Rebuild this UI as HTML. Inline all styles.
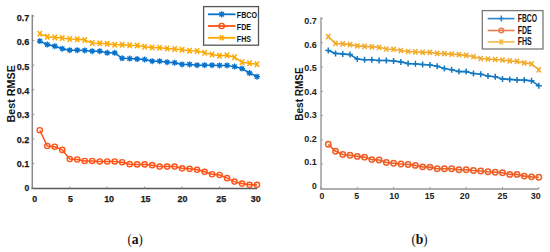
<!DOCTYPE html>
<html><head><meta charset="utf-8"><style>
html,body{margin:0;padding:0;background:#fff;}
body{width:550px;height:252px;overflow:hidden;}
svg{display:block;}
.tl{font-family:"Liberation Sans",sans-serif;font-weight:bold;font-size:9.5px;fill:#1a1a1a;}
.ta{stroke:#1a1a1a;stroke-width:0.25px;}
.tb{fill:#222;}
.yl{font-family:"Liberation Sans",sans-serif;font-weight:bold;font-size:10.8px;fill:#111;}
.lg{font-family:"Liberation Sans",sans-serif;font-weight:bold;font-size:9.4px;fill:#111;}
.cap{font-family:"Liberation Serif",serif;font-weight:bold;font-size:14.2px;fill:#111;}
.pn{font-weight:normal;}
</style></head><body>
<svg width="550" height="252" viewBox="0 0 550 252">
<path d="M32.3 14.7V188.5" stroke="#8a8a8a" stroke-width="1.5" fill="none"/>
<path d="M31.55 188.5H257" stroke="#5a5a5a" stroke-width="1.5" fill="none"/>
<path d="M32.3 188h2M32.3 163.43h2M32.3 138.86h2M32.3 114.29h2M32.3 89.72h2M32.3 65.15h2M32.3 40.58h2M32.3 16.01h2M32.3 188.5v-2M69.75 188.5v-2M107.2 188.5v-2M144.65 188.5v-2M182.1 188.5v-2M219.55 188.5v-2M257 188.5v-2" stroke="#8a8a8a" stroke-width="1" fill="none"/>
<text x="24.5" y="191.4" textLength="4.8" lengthAdjust="spacingAndGlyphs" class="tl ta">0</text>
<text x="16.7" y="167.04" textLength="12.6" lengthAdjust="spacingAndGlyphs" class="tl ta">0.1</text>
<text x="16.7" y="142.68" textLength="12.6" lengthAdjust="spacingAndGlyphs" class="tl ta">0.2</text>
<text x="16.7" y="118.32" textLength="12.6" lengthAdjust="spacingAndGlyphs" class="tl ta">0.3</text>
<text x="16.7" y="93.96" textLength="12.6" lengthAdjust="spacingAndGlyphs" class="tl ta">0.4</text>
<text x="16.7" y="69.6" textLength="12.6" lengthAdjust="spacingAndGlyphs" class="tl ta">0.5</text>
<text x="16.7" y="45.24" textLength="12.6" lengthAdjust="spacingAndGlyphs" class="tl ta">0.6</text>
<text x="16.7" y="20.88" textLength="12.6" lengthAdjust="spacingAndGlyphs" class="tl ta">0.7</text>
<text x="32.35" y="201.6" textLength="4.9" lengthAdjust="spacingAndGlyphs" class="tl ta">0</text>
<text x="68.05" y="201.6" textLength="4.9" lengthAdjust="spacingAndGlyphs" class="tl ta">5</text>
<text x="104.15" y="201.6" textLength="9.9" lengthAdjust="spacingAndGlyphs" class="tl ta">10</text>
<text x="140.65" y="201.6" textLength="9.9" lengthAdjust="spacingAndGlyphs" class="tl ta">15</text>
<text x="177.45" y="201.6" textLength="9.9" lengthAdjust="spacingAndGlyphs" class="tl ta">20</text>
<text x="216.35" y="201.6" textLength="9.9" lengthAdjust="spacingAndGlyphs" class="tl ta">25</text>
<text x="250.85" y="201.6" textLength="9.9" lengthAdjust="spacingAndGlyphs" class="tl ta">30</text>
<text transform="translate(14.6 93.85) rotate(-90)" x="-28.65" textLength="57.3" lengthAdjust="spacingAndGlyphs" class="yl">Best RMSE</text>
<polyline points="39.79,41.07 47.28,44.51 54.77,46.23 62.26,48.69 69.75,50.16 77.24,50.16 84.73,50.41 92.22,51.15 99.71,51.15 107.2,52.87 114.69,52.87 122.18,58.27 129.67,58.52 137.16,59.01 144.65,59.5 152.14,61.22 159.63,61.22 167.12,62.2 174.61,62.69 182.1,64.41 189.59,64.41 197.08,65.15 204.57,65.15 212.06,65.15 219.55,65.4 227.04,65.4 234.53,66.62 242.02,68.59 249.51,73.01 257,76.7" stroke="#0672cc" stroke-width="1.5" fill="none" stroke-linejoin="round"/><path d="M36.79 41.07H42.79M39.79 38.07V44.07M37.63 38.91L41.95 43.23M37.63 43.23L41.95 38.91" stroke="#0672cc" stroke-width="1.3" fill="none"/><path d="M44.28 44.51H50.28M47.28 41.51V47.51M45.12 42.35L49.44 46.67M45.12 46.67L49.44 42.35" stroke="#0672cc" stroke-width="1.3" fill="none"/><path d="M51.77 46.23H57.77M54.77 43.23V49.23M52.61 44.07L56.93 48.39M52.61 48.39L56.93 44.07" stroke="#0672cc" stroke-width="1.3" fill="none"/><path d="M59.26 48.69H65.26M62.26 45.69V51.69M60.1 46.53L64.42 50.85M60.1 50.85L64.42 46.53" stroke="#0672cc" stroke-width="1.3" fill="none"/><path d="M66.75 50.16H72.75M69.75 47.16V53.16M67.59 48L71.91 52.32M67.59 52.32L71.91 48" stroke="#0672cc" stroke-width="1.3" fill="none"/><path d="M74.24 50.16H80.24M77.24 47.16V53.16M75.08 48L79.4 52.32M75.08 52.32L79.4 48" stroke="#0672cc" stroke-width="1.3" fill="none"/><path d="M81.73 50.41H87.73M84.73 47.41V53.41M82.57 48.25L86.89 52.57M82.57 52.57L86.89 48.25" stroke="#0672cc" stroke-width="1.3" fill="none"/><path d="M89.22 51.15H95.22M92.22 48.15V54.15M90.06 48.99L94.38 53.31M90.06 53.31L94.38 48.99" stroke="#0672cc" stroke-width="1.3" fill="none"/><path d="M96.71 51.15H102.71M99.71 48.15V54.15M97.55 48.99L101.87 53.31M97.55 53.31L101.87 48.99" stroke="#0672cc" stroke-width="1.3" fill="none"/><path d="M104.2 52.87H110.2M107.2 49.87V55.87M105.04 50.71L109.36 55.03M105.04 55.03L109.36 50.71" stroke="#0672cc" stroke-width="1.3" fill="none"/><path d="M111.69 52.87H117.69M114.69 49.87V55.87M112.53 50.71L116.85 55.03M112.53 55.03L116.85 50.71" stroke="#0672cc" stroke-width="1.3" fill="none"/><path d="M119.18 58.27H125.18M122.18 55.27V61.27M120.02 56.11L124.34 60.43M120.02 60.43L124.34 56.11" stroke="#0672cc" stroke-width="1.3" fill="none"/><path d="M126.67 58.52H132.67M129.67 55.52V61.52M127.51 56.36L131.83 60.68M127.51 60.68L131.83 56.36" stroke="#0672cc" stroke-width="1.3" fill="none"/><path d="M134.16 59.01H140.16M137.16 56.01V62.01M135 56.85L139.32 61.17M135 61.17L139.32 56.85" stroke="#0672cc" stroke-width="1.3" fill="none"/><path d="M141.65 59.5H147.65M144.65 56.5V62.5M142.49 57.34L146.81 61.66M142.49 61.66L146.81 57.34" stroke="#0672cc" stroke-width="1.3" fill="none"/><path d="M149.14 61.22H155.14M152.14 58.22V64.22M149.98 59.06L154.3 63.38M149.98 63.38L154.3 59.06" stroke="#0672cc" stroke-width="1.3" fill="none"/><path d="M156.63 61.22H162.63M159.63 58.22V64.22M157.47 59.06L161.79 63.38M157.47 63.38L161.79 59.06" stroke="#0672cc" stroke-width="1.3" fill="none"/><path d="M164.12 62.2H170.12M167.12 59.2V65.2M164.96 60.04L169.28 64.36M164.96 64.36L169.28 60.04" stroke="#0672cc" stroke-width="1.3" fill="none"/><path d="M171.61 62.69H177.61M174.61 59.69V65.69M172.45 60.53L176.77 64.85M172.45 64.85L176.77 60.53" stroke="#0672cc" stroke-width="1.3" fill="none"/><path d="M179.1 64.41H185.1M182.1 61.41V67.41M179.94 62.25L184.26 66.57M179.94 66.57L184.26 62.25" stroke="#0672cc" stroke-width="1.3" fill="none"/><path d="M186.59 64.41H192.59M189.59 61.41V67.41M187.43 62.25L191.75 66.57M187.43 66.57L191.75 62.25" stroke="#0672cc" stroke-width="1.3" fill="none"/><path d="M194.08 65.15H200.08M197.08 62.15V68.15M194.92 62.99L199.24 67.31M194.92 67.31L199.24 62.99" stroke="#0672cc" stroke-width="1.3" fill="none"/><path d="M201.57 65.15H207.57M204.57 62.15V68.15M202.41 62.99L206.73 67.31M202.41 67.31L206.73 62.99" stroke="#0672cc" stroke-width="1.3" fill="none"/><path d="M209.06 65.15H215.06M212.06 62.15V68.15M209.9 62.99L214.22 67.31M209.9 67.31L214.22 62.99" stroke="#0672cc" stroke-width="1.3" fill="none"/><path d="M216.55 65.4H222.55M219.55 62.4V68.4M217.39 63.24L221.71 67.56M217.39 67.56L221.71 63.24" stroke="#0672cc" stroke-width="1.3" fill="none"/><path d="M224.04 65.4H230.04M227.04 62.4V68.4M224.88 63.24L229.2 67.56M224.88 67.56L229.2 63.24" stroke="#0672cc" stroke-width="1.3" fill="none"/><path d="M231.53 66.62H237.53M234.53 63.62V69.62M232.37 64.46L236.69 68.78M232.37 68.78L236.69 64.46" stroke="#0672cc" stroke-width="1.3" fill="none"/><path d="M239.02 68.59H245.02M242.02 65.59V71.59M239.86 66.43L244.18 70.75M239.86 70.75L244.18 66.43" stroke="#0672cc" stroke-width="1.3" fill="none"/><path d="M246.51 73.01H252.51M249.51 70.01V76.01M247.35 70.85L251.67 75.17M247.35 75.17L251.67 70.85" stroke="#0672cc" stroke-width="1.3" fill="none"/><path d="M254 76.7H260M257 73.7V79.7M254.84 74.54L259.16 78.86M254.84 78.86L259.16 74.54" stroke="#0672cc" stroke-width="1.3" fill="none"/>
<polyline points="39.79,130.26 47.28,145.99 54.77,146.72 62.26,149.92 69.75,159.01 77.24,159.5 84.73,160.97 92.22,160.97 99.71,161.46 107.2,161.46 114.69,161.46 122.18,162.2 129.67,164.17 137.16,164.41 144.65,164.41 152.14,165.15 159.63,166.62 167.12,166.62 174.61,166.62 182.1,168.34 189.59,168.84 197.08,169.82 204.57,171.78 212.06,174.24 219.55,174.98 227.04,178.17 234.53,181.61 242.02,183.58 249.51,184.81 257,184.81" stroke="#ff5215" stroke-width="1.5" fill="none" stroke-linejoin="round"/><circle cx="39.79" cy="130.26" r="2.6" stroke="#ff5215" stroke-width="1.4" fill="none"/><circle cx="47.28" cy="145.99" r="2.6" stroke="#ff5215" stroke-width="1.4" fill="none"/><circle cx="54.77" cy="146.72" r="2.6" stroke="#ff5215" stroke-width="1.4" fill="none"/><circle cx="62.26" cy="149.92" r="2.6" stroke="#ff5215" stroke-width="1.4" fill="none"/><circle cx="69.75" cy="159.01" r="2.6" stroke="#ff5215" stroke-width="1.4" fill="none"/><circle cx="77.24" cy="159.5" r="2.6" stroke="#ff5215" stroke-width="1.4" fill="none"/><circle cx="84.73" cy="160.97" r="2.6" stroke="#ff5215" stroke-width="1.4" fill="none"/><circle cx="92.22" cy="160.97" r="2.6" stroke="#ff5215" stroke-width="1.4" fill="none"/><circle cx="99.71" cy="161.46" r="2.6" stroke="#ff5215" stroke-width="1.4" fill="none"/><circle cx="107.2" cy="161.46" r="2.6" stroke="#ff5215" stroke-width="1.4" fill="none"/><circle cx="114.69" cy="161.46" r="2.6" stroke="#ff5215" stroke-width="1.4" fill="none"/><circle cx="122.18" cy="162.2" r="2.6" stroke="#ff5215" stroke-width="1.4" fill="none"/><circle cx="129.67" cy="164.17" r="2.6" stroke="#ff5215" stroke-width="1.4" fill="none"/><circle cx="137.16" cy="164.41" r="2.6" stroke="#ff5215" stroke-width="1.4" fill="none"/><circle cx="144.65" cy="164.41" r="2.6" stroke="#ff5215" stroke-width="1.4" fill="none"/><circle cx="152.14" cy="165.15" r="2.6" stroke="#ff5215" stroke-width="1.4" fill="none"/><circle cx="159.63" cy="166.62" r="2.6" stroke="#ff5215" stroke-width="1.4" fill="none"/><circle cx="167.12" cy="166.62" r="2.6" stroke="#ff5215" stroke-width="1.4" fill="none"/><circle cx="174.61" cy="166.62" r="2.6" stroke="#ff5215" stroke-width="1.4" fill="none"/><circle cx="182.1" cy="168.34" r="2.6" stroke="#ff5215" stroke-width="1.4" fill="none"/><circle cx="189.59" cy="168.84" r="2.6" stroke="#ff5215" stroke-width="1.4" fill="none"/><circle cx="197.08" cy="169.82" r="2.6" stroke="#ff5215" stroke-width="1.4" fill="none"/><circle cx="204.57" cy="171.78" r="2.6" stroke="#ff5215" stroke-width="1.4" fill="none"/><circle cx="212.06" cy="174.24" r="2.6" stroke="#ff5215" stroke-width="1.4" fill="none"/><circle cx="219.55" cy="174.98" r="2.6" stroke="#ff5215" stroke-width="1.4" fill="none"/><circle cx="227.04" cy="178.17" r="2.6" stroke="#ff5215" stroke-width="1.4" fill="none"/><circle cx="234.53" cy="181.61" r="2.6" stroke="#ff5215" stroke-width="1.4" fill="none"/><circle cx="242.02" cy="183.58" r="2.6" stroke="#ff5215" stroke-width="1.4" fill="none"/><circle cx="249.51" cy="184.81" r="2.6" stroke="#ff5215" stroke-width="1.4" fill="none"/><circle cx="257" cy="184.81" r="2.6" stroke="#ff5215" stroke-width="1.4" fill="none"/>
<polyline points="39.79,33.7 47.28,36.65 54.77,37.39 62.26,38.12 69.75,39.11 77.24,39.35 84.73,40.09 92.22,43.04 99.71,43.28 107.2,43.77 114.69,44.76 122.18,44.76 129.67,45.25 137.16,45.49 144.65,46.72 152.14,47.46 159.63,47.71 167.12,48.44 174.61,48.93 182.1,49.67 189.59,50.65 197.08,50.9 204.57,52.87 212.06,54.58 219.55,55.81 227.04,55.32 234.53,57.29 242.02,62.2 249.51,63.18 257,64.17" stroke="#fca800" stroke-width="1.5" fill="none" stroke-linejoin="round"/><path d="M37.69 30.9L41.89 36.5M37.69 36.5L41.89 30.9" stroke="#fca800" stroke-width="1.5" fill="none"/><path d="M45.18 33.85L49.38 39.45M45.18 39.45L49.38 33.85" stroke="#fca800" stroke-width="1.5" fill="none"/><path d="M52.67 34.59L56.87 40.19M52.67 40.19L56.87 34.59" stroke="#fca800" stroke-width="1.5" fill="none"/><path d="M60.16 35.32L64.36 40.92M60.16 40.92L64.36 35.32" stroke="#fca800" stroke-width="1.5" fill="none"/><path d="M67.65 36.31L71.85 41.91M67.65 41.91L71.85 36.31" stroke="#fca800" stroke-width="1.5" fill="none"/><path d="M75.14 36.55L79.34 42.15M75.14 42.15L79.34 36.55" stroke="#fca800" stroke-width="1.5" fill="none"/><path d="M82.63 37.29L86.83 42.89M82.63 42.89L86.83 37.29" stroke="#fca800" stroke-width="1.5" fill="none"/><path d="M90.12 40.24L94.32 45.84M90.12 45.84L94.32 40.24" stroke="#fca800" stroke-width="1.5" fill="none"/><path d="M97.61 40.48L101.81 46.08M97.61 46.08L101.81 40.48" stroke="#fca800" stroke-width="1.5" fill="none"/><path d="M105.1 40.97L109.3 46.57M105.1 46.57L109.3 40.97" stroke="#fca800" stroke-width="1.5" fill="none"/><path d="M112.59 41.96L116.79 47.56M112.59 47.56L116.79 41.96" stroke="#fca800" stroke-width="1.5" fill="none"/><path d="M120.08 41.96L124.28 47.56M120.08 47.56L124.28 41.96" stroke="#fca800" stroke-width="1.5" fill="none"/><path d="M127.57 42.45L131.77 48.05M127.57 48.05L131.77 42.45" stroke="#fca800" stroke-width="1.5" fill="none"/><path d="M135.06 42.69L139.26 48.29M135.06 48.29L139.26 42.69" stroke="#fca800" stroke-width="1.5" fill="none"/><path d="M142.55 43.92L146.75 49.52M142.55 49.52L146.75 43.92" stroke="#fca800" stroke-width="1.5" fill="none"/><path d="M150.04 44.66L154.24 50.26M150.04 50.26L154.24 44.66" stroke="#fca800" stroke-width="1.5" fill="none"/><path d="M157.53 44.91L161.73 50.51M157.53 50.51L161.73 44.91" stroke="#fca800" stroke-width="1.5" fill="none"/><path d="M165.02 45.64L169.22 51.24M165.02 51.24L169.22 45.64" stroke="#fca800" stroke-width="1.5" fill="none"/><path d="M172.51 46.13L176.71 51.73M172.51 51.73L176.71 46.13" stroke="#fca800" stroke-width="1.5" fill="none"/><path d="M180 46.87L184.2 52.47M180 52.47L184.2 46.87" stroke="#fca800" stroke-width="1.5" fill="none"/><path d="M187.49 47.85L191.69 53.45M187.49 53.45L191.69 47.85" stroke="#fca800" stroke-width="1.5" fill="none"/><path d="M194.98 48.1L199.18 53.7M194.98 53.7L199.18 48.1" stroke="#fca800" stroke-width="1.5" fill="none"/><path d="M202.47 50.07L206.67 55.67M202.47 55.67L206.67 50.07" stroke="#fca800" stroke-width="1.5" fill="none"/><path d="M209.96 51.78L214.16 57.38M209.96 57.38L214.16 51.78" stroke="#fca800" stroke-width="1.5" fill="none"/><path d="M217.45 53.01L221.65 58.61M217.45 58.61L221.65 53.01" stroke="#fca800" stroke-width="1.5" fill="none"/><path d="M224.94 52.52L229.14 58.12M224.94 58.12L229.14 52.52" stroke="#fca800" stroke-width="1.5" fill="none"/><path d="M232.43 54.49L236.63 60.09M232.43 60.09L236.63 54.49" stroke="#fca800" stroke-width="1.5" fill="none"/><path d="M239.92 59.4L244.12 65M239.92 65L244.12 59.4" stroke="#fca800" stroke-width="1.5" fill="none"/><path d="M247.41 60.38L251.61 65.98M247.41 65.98L251.61 60.38" stroke="#fca800" stroke-width="1.5" fill="none"/><path d="M254.9 61.37L259.1 66.97M254.9 66.97L259.1 61.37" stroke="#fca800" stroke-width="1.5" fill="none"/>
<rect x="203.6" y="6.6" width="54.9" height="38.6" fill="#fff" stroke="#555" stroke-width="1.3"/>
<path d="M208 14.3H235.5" stroke="#0672cc" stroke-width="1.8"/>
<path d="M218.6 14.3H224.8M221.7 11.2V17.4M219.47 12.07L223.93 16.53M219.47 16.53L223.93 12.07" stroke="#0672cc" stroke-width="1.3" fill="none"/>
<text x="236.8" y="18" textLength="20.2" lengthAdjust="spacingAndGlyphs" class="lg" style="font-size:9.4px">FBCO</text>
<path d="M208 26H235.5" stroke="#ff5215" stroke-width="1.8"/>
<circle cx="221.7" cy="26" r="2.6" stroke="#ff5215" stroke-width="1.4" fill="none"/>
<text x="236.8" y="29.8" textLength="14.2" lengthAdjust="spacingAndGlyphs" class="lg" style="font-size:9.4px">FDE</text>
<path d="M208 37.8H235.5" stroke="#fca800" stroke-width="1.8"/>
<path d="M219.9 35.3L223.5 40.3M219.9 40.3L223.5 35.3" stroke="#fca800" stroke-width="1.5" fill="none"/>
<text x="236.8" y="41.5" textLength="14.2" lengthAdjust="spacingAndGlyphs" class="lg" style="font-size:9.4px">FHS</text>
<path d="M321 17.2V188.9" stroke="#9c9c9c" stroke-width="1.5" fill="none"/>
<path d="M320.25 188.9H538.8" stroke="#969696" stroke-width="1.5" fill="none"/>
<path d="M321 188.5h2M321 164.2h2M321 139.9h2M321 115.6h2M321 91.3h2M321 67h2M321 42.7h2M321 18.4h2M321 188.9v-2M357.3 188.9v-2M393.6 188.9v-2M429.9 188.9v-2M466.2 188.9v-2M502.5 188.9v-2M538.8 188.9v-2" stroke="#9c9c9c" stroke-width="1" fill="none"/>
<text x="312" y="188.5" textLength="4.8" lengthAdjust="spacingAndGlyphs" class="tl tb">0</text>
<text x="304.2" y="165.03" textLength="12.6" lengthAdjust="spacingAndGlyphs" class="tl tb">0.1</text>
<text x="304.2" y="141.56" textLength="12.6" lengthAdjust="spacingAndGlyphs" class="tl tb">0.2</text>
<text x="304.2" y="118.09" textLength="12.6" lengthAdjust="spacingAndGlyphs" class="tl tb">0.3</text>
<text x="304.2" y="94.62" textLength="12.6" lengthAdjust="spacingAndGlyphs" class="tl tb">0.4</text>
<text x="304.2" y="71.15" textLength="12.6" lengthAdjust="spacingAndGlyphs" class="tl tb">0.5</text>
<text x="304.2" y="47.68" textLength="12.6" lengthAdjust="spacingAndGlyphs" class="tl tb">0.6</text>
<text x="304.2" y="24.21" textLength="12.6" lengthAdjust="spacingAndGlyphs" class="tl tb">0.7</text>
<text x="319.45" y="198.6" textLength="4.9" lengthAdjust="spacingAndGlyphs" class="tl tb">0</text>
<text x="354.25" y="198.6" textLength="4.9" lengthAdjust="spacingAndGlyphs" class="tl tb">5</text>
<text x="389.35" y="198.6" textLength="9.9" lengthAdjust="spacingAndGlyphs" class="tl tb">10</text>
<text x="424.65" y="198.6" textLength="9.9" lengthAdjust="spacingAndGlyphs" class="tl tb">15</text>
<text x="459.75" y="198.6" textLength="9.9" lengthAdjust="spacingAndGlyphs" class="tl tb">20</text>
<text x="497.55" y="198.6" textLength="9.9" lengthAdjust="spacingAndGlyphs" class="tl tb">25</text>
<text x="530.85" y="198.6" textLength="9.9" lengthAdjust="spacingAndGlyphs" class="tl tb">30</text>
<text transform="translate(302.9 94.05) rotate(-90)" x="-26.65" textLength="53.3" lengthAdjust="spacingAndGlyphs" class="yl">Best RMSE</text>
<polyline points="328.26,50.48 335.52,53.39 342.78,53.88 350.04,54.61 357.3,58.98 364.56,59.71 371.82,59.71 379.08,60.44 386.34,60.44 393.6,60.92 400.86,61.9 408.12,63.6 415.38,63.84 422.64,64.57 429.9,65.06 437.16,66.27 444.42,68.46 451.68,69.67 458.94,71.62 466.2,71.62 473.46,73.56 480.72,74.29 487.98,75.99 495.24,76.72 502.5,78.91 509.76,79.39 517.02,79.88 524.28,80.12 531.54,80.85 538.8,85.71" stroke="#1578c0" stroke-width="1.6" fill="none" stroke-linejoin="round"/><path d="M325.26 50.48H331.26M328.26 47.48V53.48" stroke="#1578c0" stroke-width="1.5" fill="none"/><path d="M332.52 53.39H338.52M335.52 50.39V56.39" stroke="#1578c0" stroke-width="1.5" fill="none"/><path d="M339.78 53.88H345.78M342.78 50.88V56.88" stroke="#1578c0" stroke-width="1.5" fill="none"/><path d="M347.04 54.61H353.04M350.04 51.61V57.61" stroke="#1578c0" stroke-width="1.5" fill="none"/><path d="M354.3 58.98H360.3M357.3 55.98V61.98" stroke="#1578c0" stroke-width="1.5" fill="none"/><path d="M361.56 59.71H367.56M364.56 56.71V62.71" stroke="#1578c0" stroke-width="1.5" fill="none"/><path d="M368.82 59.71H374.82M371.82 56.71V62.71" stroke="#1578c0" stroke-width="1.5" fill="none"/><path d="M376.08 60.44H382.08M379.08 57.44V63.44" stroke="#1578c0" stroke-width="1.5" fill="none"/><path d="M383.34 60.44H389.34M386.34 57.44V63.44" stroke="#1578c0" stroke-width="1.5" fill="none"/><path d="M390.6 60.92H396.6M393.6 57.92V63.92" stroke="#1578c0" stroke-width="1.5" fill="none"/><path d="M397.86 61.9H403.86M400.86 58.9V64.9" stroke="#1578c0" stroke-width="1.5" fill="none"/><path d="M405.12 63.6H411.12M408.12 60.6V66.6" stroke="#1578c0" stroke-width="1.5" fill="none"/><path d="M412.38 63.84H418.38M415.38 60.84V66.84" stroke="#1578c0" stroke-width="1.5" fill="none"/><path d="M419.64 64.57H425.64M422.64 61.57V67.57" stroke="#1578c0" stroke-width="1.5" fill="none"/><path d="M426.9 65.06H432.9M429.9 62.06V68.06" stroke="#1578c0" stroke-width="1.5" fill="none"/><path d="M434.16 66.27H440.16M437.16 63.27V69.27" stroke="#1578c0" stroke-width="1.5" fill="none"/><path d="M441.42 68.46H447.42M444.42 65.46V71.46" stroke="#1578c0" stroke-width="1.5" fill="none"/><path d="M448.68 69.67H454.68M451.68 66.67V72.67" stroke="#1578c0" stroke-width="1.5" fill="none"/><path d="M455.94 71.62H461.94M458.94 68.62V74.62" stroke="#1578c0" stroke-width="1.5" fill="none"/><path d="M463.2 71.62H469.2M466.2 68.62V74.62" stroke="#1578c0" stroke-width="1.5" fill="none"/><path d="M470.46 73.56H476.46M473.46 70.56V76.56" stroke="#1578c0" stroke-width="1.5" fill="none"/><path d="M477.72 74.29H483.72M480.72 71.29V77.29" stroke="#1578c0" stroke-width="1.5" fill="none"/><path d="M484.98 75.99H490.98M487.98 72.99V78.99" stroke="#1578c0" stroke-width="1.5" fill="none"/><path d="M492.24 76.72H498.24M495.24 73.72V79.72" stroke="#1578c0" stroke-width="1.5" fill="none"/><path d="M499.5 78.91H505.5M502.5 75.91V81.91" stroke="#1578c0" stroke-width="1.5" fill="none"/><path d="M506.76 79.39H512.76M509.76 76.39V82.39" stroke="#1578c0" stroke-width="1.5" fill="none"/><path d="M514.02 79.88H520.02M517.02 76.88V82.88" stroke="#1578c0" stroke-width="1.5" fill="none"/><path d="M521.28 80.12H527.28M524.28 77.12V83.12" stroke="#1578c0" stroke-width="1.5" fill="none"/><path d="M528.54 80.85H534.54M531.54 77.85V83.85" stroke="#1578c0" stroke-width="1.5" fill="none"/><path d="M535.8 85.71H541.8M538.8 82.71V88.71" stroke="#1578c0" stroke-width="1.5" fill="none"/>
<polyline points="328.26,144.27 335.52,151.32 342.78,154.48 350.04,155.21 357.3,156.42 364.56,157.15 371.82,159.58 379.08,160.07 386.34,162.5 393.6,163.23 400.86,163.96 408.12,164.44 415.38,165.41 422.64,166.87 429.9,167.12 437.16,168.82 444.42,168.82 451.68,168.82 458.94,169.79 466.2,169.79 473.46,170.52 480.72,171 487.98,171.73 495.24,172.22 502.5,172.71 509.76,174.41 517.02,174.41 524.28,176.11 531.54,176.84 538.8,177.32" stroke="#ee5e24" stroke-width="1.6" fill="none" stroke-linejoin="round"/><circle cx="328.26" cy="144.27" r="2.7" stroke="#ee5e24" stroke-width="1.5" fill="none"/><circle cx="335.52" cy="151.32" r="2.7" stroke="#ee5e24" stroke-width="1.5" fill="none"/><circle cx="342.78" cy="154.48" r="2.7" stroke="#ee5e24" stroke-width="1.5" fill="none"/><circle cx="350.04" cy="155.21" r="2.7" stroke="#ee5e24" stroke-width="1.5" fill="none"/><circle cx="357.3" cy="156.42" r="2.7" stroke="#ee5e24" stroke-width="1.5" fill="none"/><circle cx="364.56" cy="157.15" r="2.7" stroke="#ee5e24" stroke-width="1.5" fill="none"/><circle cx="371.82" cy="159.58" r="2.7" stroke="#ee5e24" stroke-width="1.5" fill="none"/><circle cx="379.08" cy="160.07" r="2.7" stroke="#ee5e24" stroke-width="1.5" fill="none"/><circle cx="386.34" cy="162.5" r="2.7" stroke="#ee5e24" stroke-width="1.5" fill="none"/><circle cx="393.6" cy="163.23" r="2.7" stroke="#ee5e24" stroke-width="1.5" fill="none"/><circle cx="400.86" cy="163.96" r="2.7" stroke="#ee5e24" stroke-width="1.5" fill="none"/><circle cx="408.12" cy="164.44" r="2.7" stroke="#ee5e24" stroke-width="1.5" fill="none"/><circle cx="415.38" cy="165.41" r="2.7" stroke="#ee5e24" stroke-width="1.5" fill="none"/><circle cx="422.64" cy="166.87" r="2.7" stroke="#ee5e24" stroke-width="1.5" fill="none"/><circle cx="429.9" cy="167.12" r="2.7" stroke="#ee5e24" stroke-width="1.5" fill="none"/><circle cx="437.16" cy="168.82" r="2.7" stroke="#ee5e24" stroke-width="1.5" fill="none"/><circle cx="444.42" cy="168.82" r="2.7" stroke="#ee5e24" stroke-width="1.5" fill="none"/><circle cx="451.68" cy="168.82" r="2.7" stroke="#ee5e24" stroke-width="1.5" fill="none"/><circle cx="458.94" cy="169.79" r="2.7" stroke="#ee5e24" stroke-width="1.5" fill="none"/><circle cx="466.2" cy="169.79" r="2.7" stroke="#ee5e24" stroke-width="1.5" fill="none"/><circle cx="473.46" cy="170.52" r="2.7" stroke="#ee5e24" stroke-width="1.5" fill="none"/><circle cx="480.72" cy="171" r="2.7" stroke="#ee5e24" stroke-width="1.5" fill="none"/><circle cx="487.98" cy="171.73" r="2.7" stroke="#ee5e24" stroke-width="1.5" fill="none"/><circle cx="495.24" cy="172.22" r="2.7" stroke="#ee5e24" stroke-width="1.5" fill="none"/><circle cx="502.5" cy="172.71" r="2.7" stroke="#ee5e24" stroke-width="1.5" fill="none"/><circle cx="509.76" cy="174.41" r="2.7" stroke="#ee5e24" stroke-width="1.5" fill="none"/><circle cx="517.02" cy="174.41" r="2.7" stroke="#ee5e24" stroke-width="1.5" fill="none"/><circle cx="524.28" cy="176.11" r="2.7" stroke="#ee5e24" stroke-width="1.5" fill="none"/><circle cx="531.54" cy="176.84" r="2.7" stroke="#ee5e24" stroke-width="1.5" fill="none"/><circle cx="538.8" cy="177.32" r="2.7" stroke="#ee5e24" stroke-width="1.5" fill="none"/>
<polyline points="328.26,36.62 335.52,43.43 342.78,43.92 350.04,44.64 357.3,45.86 364.56,46.34 371.82,46.83 379.08,47.32 386.34,49.02 393.6,49.26 400.86,50.48 408.12,51.45 415.38,51.93 422.64,52.42 429.9,52.42 437.16,53.39 444.42,53.63 451.68,54.12 458.94,54.61 466.2,55.34 473.46,56.79 480.72,58.5 487.98,58.98 495.24,59.47 502.5,59.95 509.76,60.92 517.02,61.41 524.28,62.87 531.54,63.84 538.8,69.92" stroke="#f2aa2a" stroke-width="1.6" fill="none" stroke-linejoin="round"/><path d="M326.16 34.02L330.36 39.23M326.16 39.23L330.36 34.02" stroke="#f2aa2a" stroke-width="1.5" fill="none"/><path d="M333.42 40.83L337.62 46.03M333.42 46.03L337.62 40.83" stroke="#f2aa2a" stroke-width="1.5" fill="none"/><path d="M340.68 41.32L344.88 46.52M340.68 46.52L344.88 41.32" stroke="#f2aa2a" stroke-width="1.5" fill="none"/><path d="M347.94 42.04L352.14 47.24M347.94 47.24L352.14 42.04" stroke="#f2aa2a" stroke-width="1.5" fill="none"/><path d="M355.2 43.26L359.4 48.46M355.2 48.46L359.4 43.26" stroke="#f2aa2a" stroke-width="1.5" fill="none"/><path d="M362.46 43.74L366.66 48.95M362.46 48.95L366.66 43.74" stroke="#f2aa2a" stroke-width="1.5" fill="none"/><path d="M369.72 44.23L373.92 49.43M369.72 49.43L373.92 44.23" stroke="#f2aa2a" stroke-width="1.5" fill="none"/><path d="M376.98 44.72L381.18 49.92M376.98 49.92L381.18 44.72" stroke="#f2aa2a" stroke-width="1.5" fill="none"/><path d="M384.24 46.42L388.44 51.62M384.24 51.62L388.44 46.42" stroke="#f2aa2a" stroke-width="1.5" fill="none"/><path d="M391.5 46.66L395.7 51.86M391.5 51.86L395.7 46.66" stroke="#f2aa2a" stroke-width="1.5" fill="none"/><path d="M398.76 47.88L402.96 53.08M398.76 53.08L402.96 47.88" stroke="#f2aa2a" stroke-width="1.5" fill="none"/><path d="M406.02 48.85L410.22 54.05M406.02 54.05L410.22 48.85" stroke="#f2aa2a" stroke-width="1.5" fill="none"/><path d="M413.28 49.33L417.48 54.53M413.28 54.53L417.48 49.33" stroke="#f2aa2a" stroke-width="1.5" fill="none"/><path d="M420.54 49.82L424.74 55.02M420.54 55.02L424.74 49.82" stroke="#f2aa2a" stroke-width="1.5" fill="none"/><path d="M427.8 49.82L432 55.02M427.8 55.02L432 49.82" stroke="#f2aa2a" stroke-width="1.5" fill="none"/><path d="M435.06 50.79L439.26 55.99M435.06 55.99L439.26 50.79" stroke="#f2aa2a" stroke-width="1.5" fill="none"/><path d="M442.32 51.03L446.52 56.23M442.32 56.23L446.52 51.03" stroke="#f2aa2a" stroke-width="1.5" fill="none"/><path d="M449.58 51.52L453.78 56.72M449.58 56.72L453.78 51.52" stroke="#f2aa2a" stroke-width="1.5" fill="none"/><path d="M456.84 52.01L461.04 57.21M456.84 57.21L461.04 52.01" stroke="#f2aa2a" stroke-width="1.5" fill="none"/><path d="M464.1 52.74L468.3 57.94M464.1 57.94L468.3 52.74" stroke="#f2aa2a" stroke-width="1.5" fill="none"/><path d="M471.36 54.19L475.56 59.39M471.36 59.39L475.56 54.19" stroke="#f2aa2a" stroke-width="1.5" fill="none"/><path d="M478.62 55.9L482.82 61.1M478.62 61.1L482.82 55.9" stroke="#f2aa2a" stroke-width="1.5" fill="none"/><path d="M485.88 56.38L490.08 61.58M485.88 61.58L490.08 56.38" stroke="#f2aa2a" stroke-width="1.5" fill="none"/><path d="M493.14 56.87L497.34 62.07M493.14 62.07L497.34 56.87" stroke="#f2aa2a" stroke-width="1.5" fill="none"/><path d="M500.4 57.35L504.6 62.55M500.4 62.55L504.6 57.35" stroke="#f2aa2a" stroke-width="1.5" fill="none"/><path d="M507.66 58.32L511.86 63.52M507.66 63.52L511.86 58.32" stroke="#f2aa2a" stroke-width="1.5" fill="none"/><path d="M514.92 58.81L519.12 64.01M514.92 64.01L519.12 58.81" stroke="#f2aa2a" stroke-width="1.5" fill="none"/><path d="M522.18 60.27L526.38 65.47M522.18 65.47L526.38 60.27" stroke="#f2aa2a" stroke-width="1.5" fill="none"/><path d="M529.44 61.24L533.64 66.44M529.44 66.44L533.64 61.24" stroke="#f2aa2a" stroke-width="1.5" fill="none"/><path d="M536.7 67.32L540.9 72.52M536.7 72.52L540.9 67.32" stroke="#f2aa2a" stroke-width="1.5" fill="none"/>
<rect x="482.3" y="10.6" width="60.7" height="38.4" fill="#fff" stroke="#7a7a7a" stroke-width="1.3"/>
<path d="M487.7 18.6H514.5" stroke="#2a86cc" stroke-width="1.6"/>
<path d="M498.3 18.6H504.3M501.3 15.6V21.6" stroke="#2a86cc" stroke-width="1.5" fill="none"/>
<text x="517.8" y="22.1" textLength="19.2" lengthAdjust="spacingAndGlyphs" class="lg" style="font-size:10.2px">FBCO</text>
<path d="M487.7 30.5H514.5" stroke="#ec7a4c" stroke-width="1.6"/>
<circle cx="501.3" cy="30.5" r="2.3" stroke="#ec7a4c" stroke-width="1.5" fill="none"/>
<text x="517.8" y="34.1" textLength="13.9" lengthAdjust="spacingAndGlyphs" class="lg" style="font-size:10.2px">FDE</text>
<path d="M487.7 41.9H514.5" stroke="#f3b848" stroke-width="1.6"/>
<path d="M499.7 39.5L502.9 44.3M499.7 44.3L502.9 39.5" stroke="#f3b848" stroke-width="1.5" fill="none"/>
<text x="517.8" y="45.4" textLength="13.9" lengthAdjust="spacingAndGlyphs" class="lg" style="font-size:10.2px">FHS</text>
<text x="127.4" y="244.4" textLength="15.4" lengthAdjust="spacingAndGlyphs" class="cap"><tspan class="pn">(</tspan><tspan style="font-size:15px">a</tspan><tspan class="pn">)</tspan></text>
<text x="411.4" y="244.4" textLength="16.2" lengthAdjust="spacingAndGlyphs" class="cap"><tspan class="pn">(</tspan><tspan style="font-size:15px">b</tspan><tspan class="pn">)</tspan></text>
</svg>
</body></html>
